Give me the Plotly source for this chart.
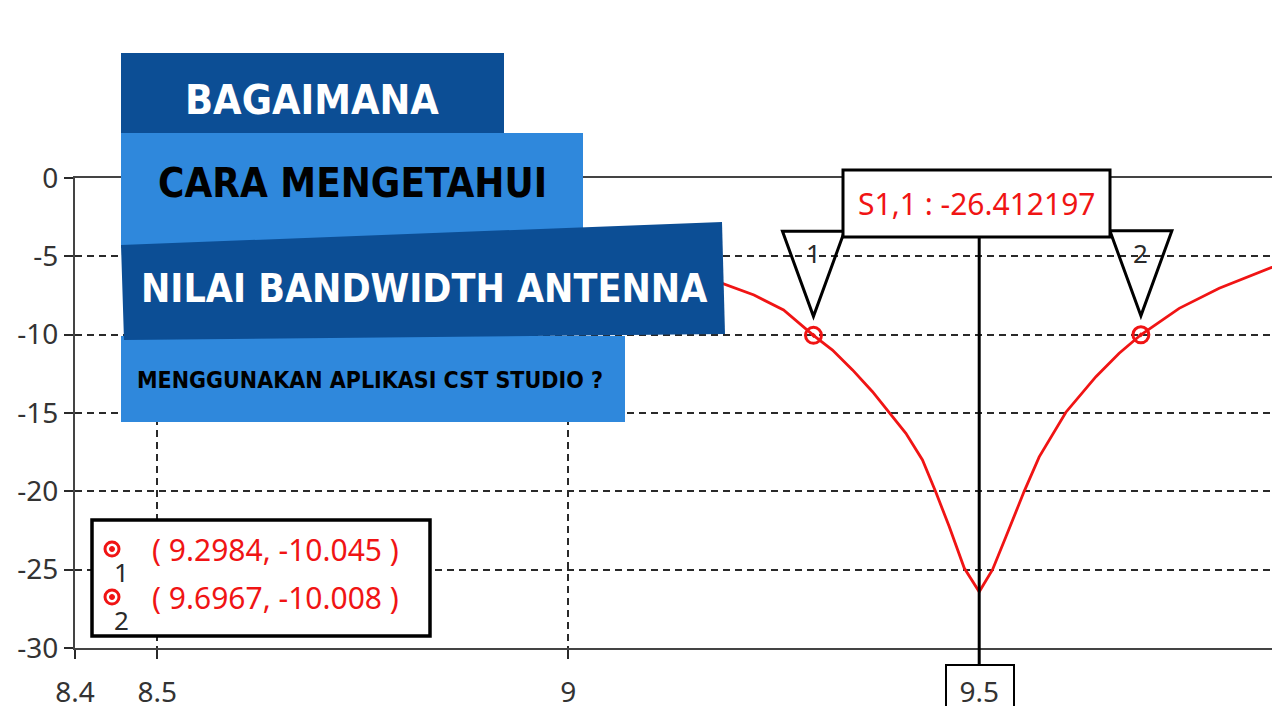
import plotly.graph_objects as go

# S11 curve (GHz, dB)
freq = [9.16, 9.186, 9.226, 9.262, 9.2984, 9.3215, 9.3459, 9.3702, 9.3905, 9.4108,
        9.431, 9.4473, 9.4635, 9.4818, 9.5, 9.5162, 9.5325, 9.5547, 9.573, 9.6055,
        9.642, 9.6703, 9.6967, 9.7433, 9.792, 9.866]
s11 = [-6.2, -6.70, -7.47, -8.42, -10.045, -10.98, -12.25, -13.64, -14.95, -16.3,
       -18.0, -20.06, -22.25, -24.9, -26.412197, -25.0, -22.9, -20.0, -17.8, -14.95,
       -12.68, -11.19, -10.008, -8.32, -7.04, -5.5]

# -10 dB markers
marker_freq = [9.2984, 9.6967]
marker_s11 = [-10.045, -10.008]
marker_names = ["1", "2"]

# resonance
res_freq = 9.5
res_s11 = -26.412197

x_ticks = [8.4, 8.5, 9, 9.5]
x_ticktext = ["8.4", "8.5", "9", "9.5"]
y_ticks = [0, -5, -10, -15, -20, -25, -30]
y_ticktext = ["0", "-5", "-10", "-15", "-20", "-25", "-30"]

banner_lines = ["BAGAIMANA", "CARA MENGETAHUI", "NILAI BANDWIDTH ANTENNA",
                "MENGGUNAKAN APLIKASI CST STUDIO ?"]

# page puts the figure 8px in from the top-left corner
OFF = 8
FIG_W, FIG_H = 1280 - OFF, 720 - OFF
# plot area in screen pixels
L, T, W, H = 75, 178, 1205, 470
PX_PER_GHZ = 822

DARK = "#0c4e95"
LIGHT = "#2f88dc"
INK = "#2a2a2a"
RED = "#f01414"
LABEL_FONT = "Noto Sans"
BANNER_FONT = "DejaVu Sans Condensed, DejaVu Sans, sans-serif"


def px_x(X):
    return (X - L) / W


def px_y(Y):
    return (T + H - Y) / H


def rect(x0, y0, x1, y1, **kw):
    return dict(type="rect", xref="paper", yref="paper", layer="above",
                x0=px_x(x0), x1=px_x(x1), y0=px_y(y0), y1=px_y(y1), **kw)


def poly(points, close=True, **kw):
    path = "M " + " L ".join(f"{px_x(a)},{px_y(b)}" for a, b in points)
    if close:
        path += " Z"
    return dict(type="path", xref="paper", yref="paper", layer="above", path=path, **kw)


def label(X, Y, text, size, color, family=LABEL_FONT, xanchor="center", **kw):
    return dict(x=px_x(X), y=px_y(Y), xref="paper", yref="paper", showarrow=False,
                xanchor=xanchor, yanchor="middle", text=text,
                font=dict(family=family, size=size, color=color, **kw))


fig = go.Figure()

fig.add_trace(go.Scatter(
    x=freq, y=s11, mode="lines",
    line=dict(color=RED, width=2.8),
    showlegend=False, hoverinfo="x+y",
))

fig.add_trace(go.Scatter(
    x=marker_freq, y=marker_s11, mode="markers",
    marker=dict(symbol="circle-open-dot", size=16, color=RED, line=dict(width=3, color=RED)),
    showlegend=False,
))

shapes = []
annotations = []

# marker triangles above each -10 dB point
for f, s, n in zip(marker_freq, marker_s11, marker_names):
    shapes.append(dict(
        type="path", xref="x", yref="y", xsizemode="pixel", ysizemode="pixel",
        xanchor=f, yanchor=s, layer="above",
        path="M 0,19 L -31,104 L 31,104 Z",
        line=dict(color="black", width=3), fillcolor="rgba(0,0,0,0)",
    ))
    annotations.append(dict(
        x=f, y=s, xref="x", yref="y", yshift=82, text=n, showarrow=False,
        xanchor="center", yanchor="middle",
        font=dict(family=LABEL_FONT, size=26, color=INK),
    ))

# resonance marker line + value box
shapes.append(dict(type="line", xref="x", yref="paper", layer="above",
                   x0=res_freq, x1=res_freq, y0=px_y(665), y1=px_y(237),
                   line=dict(color="black", width=3)))
shapes.append(rect(843, 170, 1110, 237, fillcolor="white", line=dict(color="black", width=3)))
annotations.append(label(976, 203, f"S1,1 : {res_s11}", 30, RED))
shapes.append(poly([(946, 706), (946, 665), (1014, 665), (1014, 706)], close=False,
                   line=dict(color="black", width=2)))

# marker legend box
shapes.append(rect(92, 520, 430, 636, fillcolor="white", line=dict(color="black", width=3.5)))
for i, (f, s, n) in enumerate(zip(marker_freq, marker_s11, marker_names)):
    cy = 549 + 48 * i
    for r, fill, lw in ((7, "rgba(0,0,0,0)", 3), (2.5, RED, 1)):
        shapes.append(dict(type="circle", xref="paper", yref="paper", layer="above",
                           xsizemode="pixel", ysizemode="pixel",
                           xanchor=px_x(112), yanchor=px_y(cy),
                           x0=-r, x1=r, y0=-r, y1=r, fillcolor=fill,
                           line=dict(color=RED, width=lw)))
    annotations.append(label(150, cy, f"( {f}, {s} )", 30, RED, xanchor="left"))
    annotations.append(label(121, cy + 23, n, 26, INK))

# title banners
shapes.append(rect(121, 53, 504, 133, fillcolor=DARK, line=dict(width=0)))
shapes.append(rect(121, 133, 583, 248, fillcolor=LIGHT, line=dict(width=0)))
shapes.append(rect(121, 336, 625, 422, fillcolor=LIGHT, line=dict(width=0)))
shapes.append(poly([(121, 245), (722, 222), (725, 334), (124, 340)],
                   fillcolor=DARK, line=dict(width=0)))

banner_style = [
    (312, 100, 41, "white"),
    (352, 183, 40, "black"),
    (424, 288, 39, "white"),
    (370, 380, 23, "black"),
]
for text, (cx, cy, size, color) in zip(banner_lines, banner_style):
    annotations.append(label(cx, cy, f"<b>{text}</b>", size, color, family=BANNER_FONT))

fig.update_layout(
    width=FIG_W, height=FIG_H,
    margin=dict(l=L - OFF, r=1280 - L - W, t=T - OFF, b=720 - T - H),
    paper_bgcolor="white", plot_bgcolor="white",
    shapes=shapes, annotations=annotations,
    showlegend=False,
)

fig.update_xaxes(
    range=[8.4, 8.4 + W / PX_PER_GHZ],
    tickvals=x_ticks, ticktext=x_ticktext,
    showgrid=True, griddash="7px,5px", gridcolor=INK, gridwidth=1.5,
    showline=True, linecolor="#444", linewidth=2, mirror=True,
    ticks="outside", ticklen=9, tickwidth=2, tickcolor=INK,
    ticklabelstandoff=9,
    tickfont=dict(family=LABEL_FONT, size=28, color="#333"),
    zeroline=False,
)
fig.update_yaxes(
    range=[-30, 0], tickvals=y_ticks, ticktext=y_ticktext,
    showgrid=True, griddash="7px,5px", gridcolor=INK, gridwidth=1.5,
    showline=True, linecolor="#444", linewidth=2,
    ticks="outside", ticklen=9, tickwidth=2, tickcolor=INK,
    ticklabelstandoff=0,
    tickfont=dict(family=LABEL_FONT, size=28, color="#333"),
    zeroline=False,
)

fig.write_html("out.html")
